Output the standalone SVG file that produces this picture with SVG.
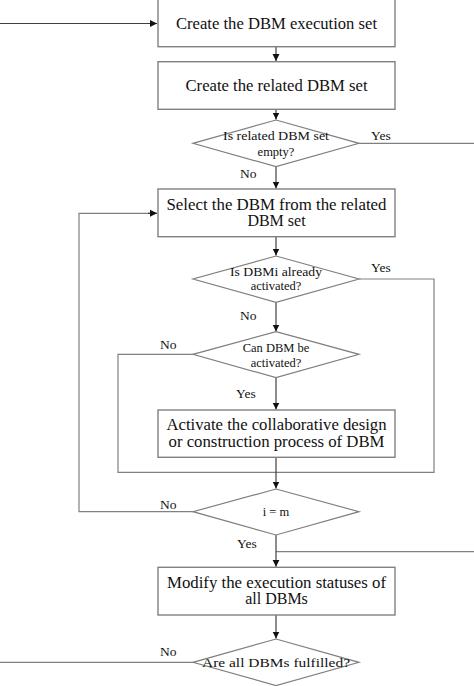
<svg xmlns="http://www.w3.org/2000/svg" width="474" height="686" viewBox="0 0 474 686">
<style>
.box{fill:#fff;stroke:#808080;stroke-width:1.4}
.dia{fill:#fff;stroke:#808080;stroke-width:1.2}
.ln{fill:none;stroke:#808080;stroke-width:1.2}
.ar{fill:none;stroke:#404040;stroke-width:1.2}
.t{font-family:'Liberation Serif','DejaVu Serif',serif;font-size:16px;fill:#111;text-anchor:middle}
.s{font-family:'Liberation Serif','DejaVu Serif',serif;font-size:12.5px;fill:#111;text-anchor:middle}
.l{font-family:'Liberation Serif','DejaVu Serif',serif;font-size:13.5px;fill:#111}
</style>
<defs>
<marker id="ah" markerWidth="8" markerHeight="8" refX="7" refY="4" orient="auto" markerUnits="userSpaceOnUse">
<path d="M0,0.5 L7,4 L0,7.5 Z" fill="#111"/>
</marker>
</defs>
<rect width="474" height="686" fill="#fff"/>
<g id="connectors">
<line class="ar" x1="0" y1="23.5" x2="157" y2="23.5" marker-end="url(#ah)"/>
<line class="ar" x1="276" y1="47" x2="276" y2="61" marker-end="url(#ah)"/>
<line class="ar" x1="276" y1="109" x2="276" y2="119.5" marker-end="url(#ah)"/>
<line class="ln" x1="359" y1="143.3" x2="474" y2="143.3"/>
<line class="ar" x1="276" y1="167" x2="276" y2="188.5" marker-end="url(#ah)"/>
<line class="ar" x1="276" y1="237" x2="276" y2="255.5" marker-end="url(#ah)"/>
<polyline class="ln" points="359,279 434,279 434,472.3 118,472.3 118,354.3 193,354.3"/>
<line class="ar" x1="276" y1="302.3" x2="276" y2="331.5" marker-end="url(#ah)"/>
<line class="ar" x1="276" y1="377.7" x2="276" y2="409.5" marker-end="url(#ah)"/>
<line class="ar" x1="276" y1="457.3" x2="276" y2="488.5" marker-end="url(#ah)"/>
<polyline class="ln" points="193,511.7 79,511.7 79,213.3 150,213.3"/>
<line class="ar" x1="148" y1="213.3" x2="157" y2="213.3" marker-end="url(#ah)"/>
<line class="ln" x1="474" y1="551.7" x2="276" y2="551.7"/>
<line class="ar" x1="276" y1="535" x2="276" y2="566.8" marker-end="url(#ah)"/>
<line class="ar" x1="276" y1="615" x2="276" y2="638.5" marker-end="url(#ah)"/>
<line class="ln" x1="193" y1="662.3" x2="0" y2="662.3"/>
</g>
<g id="n1"><rect class="box" x="158" y="-2" width="237" height="48.7"/><text class="t" x="276.5" y="28.5" textLength="201" lengthAdjust="spacingAndGlyphs">Create the DBM execution set</text></g>
<g id="n2"><rect class="box" x="158" y="61.7" width="237" height="47.6"/><text class="t" x="276.5" y="91" textLength="182" lengthAdjust="spacingAndGlyphs">Create the related DBM set</text></g>
<g id="d1"><polygon class="dia" points="276,120 359,143.3 276,166.7 193,143.3"/><text class="s" x="276" y="140" textLength="106" lengthAdjust="spacingAndGlyphs">Is related DBM set</text><text class="s" x="276" y="156">empty?</text></g>
<g id="n3"><rect class="box" x="158" y="189" width="237" height="47.7"/><text class="t" x="276.5" y="210" textLength="220" lengthAdjust="spacingAndGlyphs">Select the DBM  from the related</text><text class="t" x="276.5" y="226">DBM set</text></g>
<g id="d2"><polygon class="dia" points="276,256 359,279 276,302.3 193,279"/><text class="s" x="276" y="276" textLength="92" lengthAdjust="spacingAndGlyphs">Is DBMi already</text><text class="s" x="276" y="290">activated?</text></g>
<g id="d3"><polygon class="dia" points="276,331.7 359,354.3 276,377.7 193,354.3"/><text class="s" x="276" y="352">Can DBM  be</text><text class="s" x="276" y="367">activated?</text></g>
<g id="n4"><rect class="box" x="158" y="410" width="237" height="47.3"/><text class="t" x="276.5" y="430" textLength="220" lengthAdjust="spacingAndGlyphs">Activate the collaborative design</text><text class="t" x="276.5" y="446.5" textLength="216" lengthAdjust="spacingAndGlyphs">or construction process of DBM</text></g>
<g id="d4"><polygon class="dia" points="276,489 359,511.7 276,535 193,511.7"/><text class="s" x="276" y="516">i = m</text></g>
<g id="n5"><rect class="box" x="158" y="567.3" width="237" height="47.7"/><text class="t" x="276.5" y="588" textLength="219" lengthAdjust="spacingAndGlyphs">Modify the execution statuses of</text><text class="t" x="276.5" y="604">all DBMs</text></g>
<g id="d5"><polygon class="dia" points="276,639 359,662.3 276,685.6 193,662.3"/><text class="s" x="276" y="666.5" textLength="148" lengthAdjust="spacingAndGlyphs">Are all DBMs fulfilled?</text></g>
<g id="labels">
<text class="l" x="371" y="140">Yes</text>
<text class="l" x="240" y="178">No</text>
<text class="l" x="371" y="272">Yes</text>
<text class="l" x="240" y="320">No</text>
<text class="l" x="160" y="349">No</text>
<text class="l" x="236" y="398">Yes</text>
<text class="l" x="160" y="508.5">No</text>
<text class="l" x="237" y="547.5">Yes</text>
<text class="l" x="160" y="656">No</text>
</g>
</svg>
